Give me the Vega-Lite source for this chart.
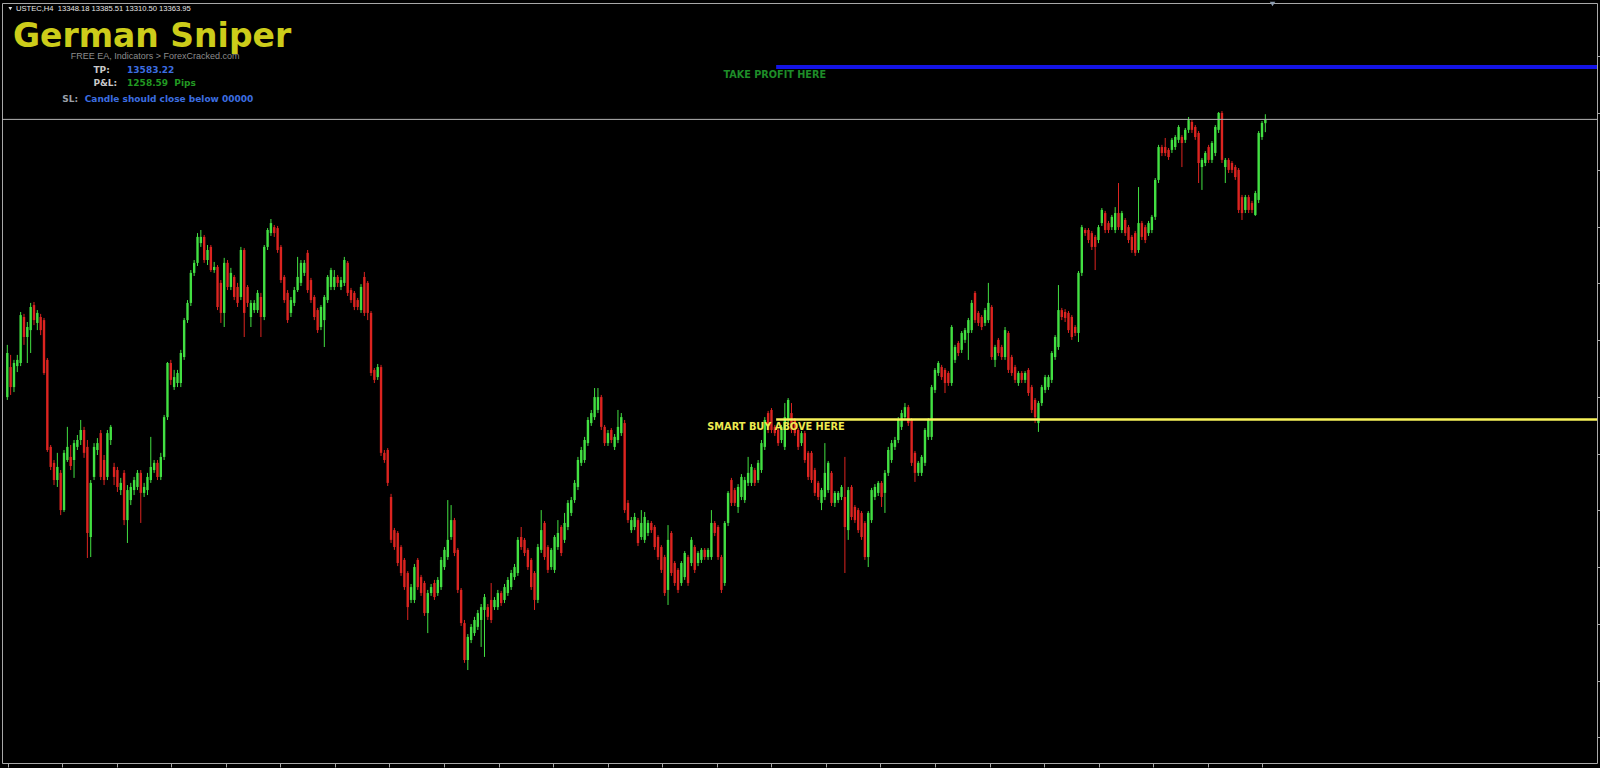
{
"$schema":"https://vega.github.io/schema/vega-lite/v6.json",
"width":1595,"height":760,
"autosize":{"type":"none"},
"padding":{"left":2,"top":3,"right":3,"bottom":5},
"background":"#000000",
"config":{"view":{"stroke":"#a8a8a8","strokeWidth":1,"fill":"#000000"},"axis":{"grid":false,"labels":false,"domain":false,"tickColor":"#a8a8a8","tickWidth":1}},
"datasets":{"candles":[
{"t":0,"o":12199,"h":12418,"l":12187,"c":12384},{"t":1,"o":12325,"h":12376,"l":12208,"c":12241},{"t":2,"o":12241,"h":12355,"l":12220,"c":12342},{"t":3,"o":12329,"h":12376,"l":12304,"c":12355},{"t":4,"o":12342,"h":12556,"l":12329,"c":12543},{"t":5,"o":12535,"h":12548,"l":12418,"c":12451},{"t":6,"o":12451,"h":12514,"l":12342,"c":12493},{"t":7,"o":12480,"h":12594,"l":12384,"c":12577},{"t":8,"o":12585,"h":12598,"l":12501,"c":12522},{"t":9,"o":12510,"h":12564,"l":12480,"c":12552},
{"t":10,"o":12535,"h":12548,"l":12459,"c":12480},{"t":11,"o":12522,"h":12531,"l":12292,"c":12300},{"t":12,"o":12355,"h":12363,"l":11969,"c":11977},{"t":13,"o":11990,"h":11998,"l":11893,"c":11906},{"t":14,"o":11923,"h":11935,"l":11830,"c":11851},{"t":15,"o":11851,"h":11965,"l":11822,"c":11906},{"t":16,"o":11881,"h":11893,"l":11704,"c":11725},{"t":17,"o":11725,"h":11977,"l":11717,"c":11965},{"t":18,"o":11935,"h":12074,"l":11927,"c":11990},{"t":19,"o":11948,"h":11998,"l":11893,"c":11910},
{"t":20,"o":11935,"h":12019,"l":11860,"c":12006},{"t":21,"o":11990,"h":12040,"l":11977,"c":12019},{"t":22,"o":12019,"h":12103,"l":11998,"c":12061},{"t":23,"o":12061,"h":12074,"l":11944,"c":11965},{"t":24,"o":11990,"h":12019,"l":11524,"c":11629},{"t":25,"o":11612,"h":11851,"l":11528,"c":11839},{"t":26,"o":11864,"h":12006,"l":11851,"c":11990},{"t":27,"o":11977,"h":12027,"l":11956,"c":12006},{"t":28,"o":12048,"h":12061,"l":11851,"c":11864},{"t":29,"o":11935,"h":11956,"l":11830,"c":11851},
{"t":30,"o":11864,"h":12061,"l":11851,"c":12048},{"t":31,"o":12019,"h":12082,"l":11998,"c":12074},{"t":32,"o":11906,"h":11923,"l":11830,"c":11864},{"t":33,"o":11893,"h":11906,"l":11801,"c":11822},{"t":34,"o":11809,"h":11860,"l":11788,"c":11839},{"t":35,"o":11881,"h":11893,"l":11662,"c":11683},{"t":36,"o":11683,"h":11830,"l":11587,"c":11809},{"t":37,"o":11767,"h":11839,"l":11746,"c":11822},{"t":38,"o":11809,"h":11864,"l":11788,"c":11851},{"t":39,"o":11822,"h":11893,"l":11809,"c":11881},
{"t":40,"o":11881,"h":11893,"l":11671,"c":11797},{"t":41,"o":11797,"h":11839,"l":11780,"c":11822},{"t":42,"o":11809,"h":11881,"l":11788,"c":11864},{"t":43,"o":11851,"h":12032,"l":11839,"c":11906},{"t":44,"o":11893,"h":11935,"l":11881,"c":11923},{"t":45,"o":11923,"h":11935,"l":11851,"c":11864},{"t":46,"o":11864,"h":11965,"l":11851,"c":11948},{"t":47,"o":11948,"h":12124,"l":11935,"c":12115},{"t":48,"o":12115,"h":12346,"l":12103,"c":12342},{"t":49,"o":12342,"h":12355,"l":12250,"c":12271},
{"t":50,"o":12241,"h":12313,"l":12229,"c":12283},{"t":51,"o":12258,"h":12313,"l":12241,"c":12300},{"t":52,"o":12258,"h":12397,"l":12241,"c":12384},{"t":53,"o":12367,"h":12531,"l":12355,"c":12522},{"t":54,"o":12522,"h":12606,"l":12510,"c":12594},{"t":55,"o":12594,"h":12732,"l":12581,"c":12720},{"t":56,"o":12720,"h":12774,"l":12707,"c":12762},{"t":57,"o":12762,"h":12887,"l":12749,"c":12871},{"t":58,"o":12845,"h":12900,"l":12829,"c":12871},{"t":59,"o":12871,"h":12879,"l":12762,"c":12774},
{"t":60,"o":12774,"h":12837,"l":12753,"c":12816},{"t":61,"o":12829,"h":12837,"l":12724,"c":12732},{"t":62,"o":12732,"h":12766,"l":12720,"c":12745},{"t":63,"o":12745,"h":12753,"l":12564,"c":12577},{"t":64,"o":12678,"h":12690,"l":12510,"c":12552},{"t":65,"o":12552,"h":12783,"l":12493,"c":12762},{"t":66,"o":12762,"h":12774,"l":12648,"c":12661},{"t":67,"o":12661,"h":12741,"l":12648,"c":12720},{"t":68,"o":12703,"h":12711,"l":12606,"c":12619},{"t":69,"o":12661,"h":12678,"l":12577,"c":12594},
{"t":70,"o":12619,"h":12829,"l":12606,"c":12816},{"t":71,"o":12816,"h":12824,"l":12451,"c":12552},{"t":72,"o":12661,"h":12669,"l":12577,"c":12594},{"t":73,"o":12535,"h":12606,"l":12493,"c":12594},{"t":74,"o":12564,"h":12606,"l":12552,"c":12594},{"t":75,"o":12564,"h":12648,"l":12552,"c":12636},{"t":76,"o":12619,"h":12636,"l":12451,"c":12535},{"t":77,"o":12535,"h":12837,"l":12522,"c":12829},{"t":78,"o":12829,"h":12908,"l":12816,"c":12900},{"t":79,"o":12887,"h":12946,"l":12875,"c":12929},
{"t":80,"o":12912,"h":12921,"l":12871,"c":12887},{"t":81,"o":12908,"h":12917,"l":12804,"c":12816},{"t":82,"o":12829,"h":12837,"l":12678,"c":12690},{"t":83,"o":12703,"h":12711,"l":12594,"c":12606},{"t":84,"o":12636,"h":12648,"l":12510,"c":12522},{"t":85,"o":12552,"h":12619,"l":12535,"c":12606},{"t":86,"o":12594,"h":12661,"l":12581,"c":12648},{"t":87,"o":12648,"h":12787,"l":12640,"c":12703},{"t":88,"o":12678,"h":12774,"l":12665,"c":12762},{"t":89,"o":12720,"h":12774,"l":12707,"c":12762},
{"t":90,"o":12804,"h":12816,"l":12636,"c":12648},{"t":91,"o":12690,"h":12699,"l":12594,"c":12606},{"t":92,"o":12619,"h":12627,"l":12522,"c":12535},{"t":93,"o":12564,"h":12573,"l":12468,"c":12480},{"t":94,"o":12493,"h":12585,"l":12480,"c":12577},{"t":95,"o":12522,"h":12627,"l":12409,"c":12619},{"t":96,"o":12606,"h":12711,"l":12594,"c":12703},{"t":97,"o":12661,"h":12741,"l":12648,"c":12732},{"t":98,"o":12661,"h":12732,"l":12648,"c":12703},{"t":99,"o":12703,"h":12711,"l":12661,"c":12678},
{"t":100,"o":12661,"h":12703,"l":12648,"c":12690},{"t":101,"o":12678,"h":12787,"l":12665,"c":12774},{"t":102,"o":12762,"h":12770,"l":12623,"c":12636},{"t":103,"o":12648,"h":12657,"l":12594,"c":12606},{"t":104,"o":12636,"h":12644,"l":12564,"c":12577},{"t":105,"o":12606,"h":12615,"l":12564,"c":12577},{"t":106,"o":12564,"h":12673,"l":12552,"c":12661},{"t":107,"o":12703,"h":12724,"l":12539,"c":12552},{"t":108,"o":12678,"h":12686,"l":12522,"c":12552},{"t":109,"o":12552,"h":12560,"l":12288,"c":12300},
{"t":110,"o":12313,"h":12321,"l":12258,"c":12271},{"t":111,"o":12283,"h":12338,"l":12271,"c":12325},{"t":112,"o":12325,"h":12334,"l":11952,"c":11965},{"t":113,"o":11965,"h":11977,"l":11923,"c":11935},{"t":114,"o":11977,"h":11985,"l":11826,"c":11839},{"t":115,"o":11780,"h":11793,"l":11587,"c":11600},{"t":116,"o":11641,"h":11650,"l":11558,"c":11570},{"t":117,"o":11629,"h":11637,"l":11490,"c":11503},{"t":118,"o":11570,"h":11578,"l":11449,"c":11461},{"t":119,"o":11516,"h":11524,"l":11390,"c":11402},
{"t":120,"o":11461,"h":11469,"l":11264,"c":11318},{"t":121,"o":11348,"h":11415,"l":11335,"c":11402},{"t":122,"o":11348,"h":11499,"l":11335,"c":11486},{"t":123,"o":11516,"h":11524,"l":11390,"c":11402},{"t":124,"o":11444,"h":11453,"l":11365,"c":11377},{"t":125,"o":11419,"h":11428,"l":11281,"c":11293},{"t":126,"o":11293,"h":11390,"l":11209,"c":11377},{"t":127,"o":11377,"h":11415,"l":11365,"c":11402},{"t":128,"o":11419,"h":11432,"l":11348,"c":11360},{"t":129,"o":11377,"h":11444,"l":11365,"c":11432},
{"t":130,"o":11402,"h":11528,"l":11390,"c":11516},{"t":131,"o":11486,"h":11570,"l":11474,"c":11558},{"t":132,"o":11528,"h":11767,"l":11516,"c":11600},{"t":133,"o":11612,"h":11746,"l":11600,"c":11683},{"t":134,"o":11683,"h":11692,"l":11532,"c":11545},{"t":135,"o":11558,"h":11566,"l":11377,"c":11390},{"t":136,"o":11390,"h":11398,"l":11239,"c":11251},{"t":137,"o":11251,"h":11264,"l":11084,"c":11096},{"t":138,"o":11096,"h":11205,"l":11054,"c":11193},{"t":139,"o":11180,"h":11247,"l":11167,"c":11235},
{"t":140,"o":11209,"h":11277,"l":11197,"c":11264},{"t":141,"o":11235,"h":11306,"l":11222,"c":11293},{"t":142,"o":11264,"h":11331,"l":11151,"c":11318},{"t":143,"o":11306,"h":11373,"l":11109,"c":11360},{"t":144,"o":11318,"h":11331,"l":11264,"c":11277},{"t":145,"o":11348,"h":11419,"l":11251,"c":11264},{"t":146,"o":11318,"h":11360,"l":11306,"c":11348},{"t":147,"o":11318,"h":11390,"l":11306,"c":11377},{"t":148,"o":11377,"h":11386,"l":11323,"c":11335},{"t":149,"o":11348,"h":11415,"l":11335,"c":11402},
{"t":150,"o":11377,"h":11444,"l":11365,"c":11432},{"t":151,"o":11402,"h":11474,"l":11390,"c":11461},{"t":152,"o":11444,"h":11499,"l":11432,"c":11486},{"t":153,"o":11461,"h":11612,"l":11449,"c":11600},{"t":154,"o":11612,"h":11654,"l":11558,"c":11570},{"t":155,"o":11600,"h":11608,"l":11532,"c":11545},{"t":156,"o":11558,"h":11566,"l":11474,"c":11486},{"t":157,"o":11516,"h":11524,"l":11390,"c":11402},{"t":158,"o":11461,"h":11469,"l":11306,"c":11348},{"t":159,"o":11348,"h":11583,"l":11335,"c":11570},
{"t":160,"o":11558,"h":11725,"l":11545,"c":11641},{"t":161,"o":11671,"h":11679,"l":11516,"c":11528},{"t":162,"o":11570,"h":11578,"l":11461,"c":11474},{"t":163,"o":11486,"h":11566,"l":11474,"c":11558},{"t":164,"o":11474,"h":11620,"l":11461,"c":11612},{"t":165,"o":11570,"h":11683,"l":11558,"c":11629},{"t":166,"o":11654,"h":11662,"l":11532,"c":11545},{"t":167,"o":11600,"h":11713,"l":11587,"c":11671},{"t":168,"o":11654,"h":11767,"l":11641,"c":11755},{"t":169,"o":11713,"h":11780,"l":11700,"c":11767},
{"t":170,"o":11767,"h":11851,"l":11755,"c":11839},{"t":171,"o":11822,"h":11948,"l":11809,"c":11935},{"t":172,"o":11923,"h":11990,"l":11910,"c":11977},{"t":173,"o":11935,"h":12032,"l":11923,"c":12019},{"t":174,"o":12006,"h":12115,"l":11994,"c":12103},{"t":175,"o":12090,"h":12145,"l":12078,"c":12132},{"t":176,"o":12115,"h":12237,"l":12103,"c":12199},{"t":177,"o":12145,"h":12237,"l":12132,"c":12199},{"t":178,"o":12199,"h":12208,"l":12061,"c":12074},{"t":179,"o":12074,"h":12082,"l":11994,"c":12006},
{"t":180,"o":12006,"h":12061,"l":11994,"c":12048},{"t":181,"o":12061,"h":12069,"l":12006,"c":12019},{"t":182,"o":11990,"h":12044,"l":11977,"c":12032},{"t":183,"o":12019,"h":12145,"l":12006,"c":12074},{"t":184,"o":12048,"h":12132,"l":12036,"c":12115},{"t":185,"o":12090,"h":12103,"l":11713,"c":11725},{"t":186,"o":11755,"h":11767,"l":11671,"c":11683},{"t":187,"o":11641,"h":11696,"l":11629,"c":11683},{"t":188,"o":11654,"h":11713,"l":11641,"c":11696},{"t":189,"o":11683,"h":11692,"l":11574,"c":11587},
{"t":190,"o":11612,"h":11725,"l":11600,"c":11671},{"t":191,"o":11600,"h":11717,"l":11587,"c":11696},{"t":192,"o":11629,"h":11683,"l":11616,"c":11671},{"t":193,"o":11671,"h":11679,"l":11629,"c":11641},{"t":194,"o":11654,"h":11662,"l":11558,"c":11570},{"t":195,"o":11612,"h":11620,"l":11516,"c":11528},{"t":196,"o":11570,"h":11578,"l":11461,"c":11474},{"t":197,"o":11528,"h":11537,"l":11365,"c":11377},{"t":198,"o":11390,"h":11662,"l":11327,"c":11600},{"t":199,"o":11629,"h":11637,"l":11449,"c":11461},
{"t":200,"o":11503,"h":11511,"l":11407,"c":11419},{"t":201,"o":11474,"h":11482,"l":11377,"c":11390},{"t":202,"o":11419,"h":11511,"l":11407,"c":11503},{"t":203,"o":11444,"h":11553,"l":11432,"c":11545},{"t":204,"o":11528,"h":11537,"l":11407,"c":11419},{"t":205,"o":11503,"h":11612,"l":11490,"c":11600},{"t":206,"o":11570,"h":11578,"l":11461,"c":11474},{"t":207,"o":11503,"h":11553,"l":11490,"c":11545},{"t":208,"o":11516,"h":11566,"l":11503,"c":11558},{"t":209,"o":11558,"h":11566,"l":11516,"c":11528},
{"t":210,"o":11528,"h":11566,"l":11516,"c":11558},{"t":211,"o":11528,"h":11725,"l":11516,"c":11671},{"t":212,"o":11671,"h":11679,"l":11616,"c":11629},{"t":213,"o":11654,"h":11662,"l":11516,"c":11528},{"t":214,"o":11528,"h":11537,"l":11377,"c":11390},{"t":215,"o":11419,"h":11679,"l":11407,"c":11671},{"t":216,"o":11671,"h":11805,"l":11658,"c":11797},{"t":217,"o":11851,"h":11860,"l":11742,"c":11755},{"t":218,"o":11809,"h":11818,"l":11742,"c":11755},{"t":219,"o":11738,"h":11834,"l":11713,"c":11822},
{"t":220,"o":11780,"h":11876,"l":11767,"c":11864},{"t":221,"o":11767,"h":11864,"l":11755,"c":11851},{"t":222,"o":11839,"h":11948,"l":11826,"c":11881},{"t":223,"o":11839,"h":11918,"l":11826,"c":11906},{"t":224,"o":11893,"h":11902,"l":11826,"c":11839},{"t":225,"o":11851,"h":11935,"l":11839,"c":11923},{"t":226,"o":11893,"h":12019,"l":11881,"c":12006},{"t":227,"o":11990,"h":12115,"l":11977,"c":12103},{"t":228,"o":12132,"h":12141,"l":12048,"c":12061},{"t":229,"o":12145,"h":12153,"l":12048,"c":12061},
{"t":230,"o":12074,"h":12082,"l":12036,"c":12048},{"t":231,"o":12061,"h":12069,"l":11994,"c":12006},{"t":232,"o":12019,"h":12082,"l":12006,"c":12074},{"t":233,"o":11990,"h":12174,"l":11977,"c":12115},{"t":234,"o":12103,"h":12195,"l":12090,"c":12187},{"t":235,"o":12132,"h":12174,"l":12048,"c":12061},{"t":236,"o":12103,"h":12111,"l":12036,"c":12048},{"t":237,"o":12061,"h":12069,"l":11977,"c":11990},{"t":238,"o":12006,"h":12057,"l":11994,"c":12048},{"t":239,"o":12048,"h":12057,"l":11923,"c":11935},
{"t":240,"o":11965,"h":11973,"l":11851,"c":11864},{"t":241,"o":11965,"h":11973,"l":11839,"c":11851},{"t":242,"o":11893,"h":11902,"l":11784,"c":11797},{"t":243,"o":11839,"h":11847,"l":11767,"c":11780},{"t":244,"o":11755,"h":11818,"l":11725,"c":11809},{"t":245,"o":11780,"h":12006,"l":11767,"c":11881},{"t":246,"o":11809,"h":11931,"l":11797,"c":11923},{"t":247,"o":11881,"h":11889,"l":11742,"c":11755},{"t":248,"o":11755,"h":11805,"l":11738,"c":11797},{"t":249,"o":11767,"h":11805,"l":11755,"c":11797},
{"t":250,"o":11780,"h":11830,"l":11767,"c":11822},{"t":251,"o":11780,"h":11948,"l":11461,"c":11654},{"t":252,"o":11641,"h":11822,"l":11600,"c":11809},{"t":253,"o":11822,"h":11830,"l":11683,"c":11696},{"t":254,"o":11738,"h":11746,"l":11671,"c":11683},{"t":255,"o":11725,"h":11734,"l":11629,"c":11641},{"t":256,"o":11713,"h":11721,"l":11600,"c":11612},{"t":257,"o":11671,"h":11679,"l":11516,"c":11528},{"t":258,"o":11528,"h":11721,"l":11486,"c":11713},{"t":259,"o":11683,"h":11818,"l":11671,"c":11809},
{"t":260,"o":11780,"h":11834,"l":11767,"c":11822},{"t":261,"o":11797,"h":11847,"l":11784,"c":11839},{"t":262,"o":11839,"h":11847,"l":11738,"c":11780},{"t":263,"o":11797,"h":11893,"l":11713,"c":11881},{"t":264,"o":11881,"h":11990,"l":11868,"c":11977},{"t":265,"o":11935,"h":12019,"l":11923,"c":12006},{"t":266,"o":11990,"h":12032,"l":11977,"c":12019},{"t":267,"o":12019,"h":12115,"l":12006,"c":12103},{"t":268,"o":12074,"h":12145,"l":12061,"c":12132},{"t":269,"o":12115,"h":12174,"l":12103,"c":12157},
{"t":270,"o":12157,"h":12166,"l":12078,"c":12090},{"t":271,"o":12103,"h":12111,"l":11910,"c":11923},{"t":272,"o":11965,"h":11973,"l":11843,"c":11881},{"t":273,"o":11881,"h":11931,"l":11868,"c":11923},{"t":274,"o":11881,"h":11956,"l":11868,"c":11948},{"t":275,"o":11923,"h":12069,"l":11910,"c":12061},{"t":276,"o":12032,"h":12111,"l":12019,"c":12103},{"t":277,"o":12032,"h":12250,"l":12019,"c":12241},{"t":278,"o":12229,"h":12321,"l":12216,"c":12313},{"t":279,"o":12300,"h":12350,"l":12288,"c":12342},
{"t":280,"o":12325,"h":12334,"l":12271,"c":12283},{"t":281,"o":12313,"h":12321,"l":12216,"c":12258},{"t":282,"o":12300,"h":12308,"l":12246,"c":12258},{"t":283,"o":12258,"h":12501,"l":12246,"c":12493},{"t":284,"o":12355,"h":12418,"l":12342,"c":12409},{"t":285,"o":12426,"h":12434,"l":12371,"c":12384},{"t":286,"o":12397,"h":12476,"l":12384,"c":12468},{"t":287,"o":12439,"h":12489,"l":12426,"c":12480},{"t":288,"o":12468,"h":12531,"l":12355,"c":12522},{"t":289,"o":12480,"h":12606,"l":12468,"c":12594},
{"t":290,"o":12636,"h":12644,"l":12510,"c":12522},{"t":291,"o":12552,"h":12560,"l":12497,"c":12510},{"t":292,"o":12535,"h":12543,"l":12480,"c":12493},{"t":293,"o":12510,"h":12573,"l":12497,"c":12564},{"t":294,"o":12522,"h":12678,"l":12510,"c":12594},{"t":295,"o":12577,"h":12585,"l":12355,"c":12367},{"t":296,"o":12355,"h":12418,"l":12325,"c":12409},{"t":297,"o":12439,"h":12447,"l":12371,"c":12384},{"t":298,"o":12409,"h":12418,"l":12355,"c":12367},{"t":299,"o":12367,"h":12493,"l":12355,"c":12480},
{"t":300,"o":12468,"h":12476,"l":12300,"c":12313},{"t":301,"o":12367,"h":12376,"l":12288,"c":12300},{"t":302,"o":12325,"h":12334,"l":12258,"c":12271},{"t":303,"o":12258,"h":12308,"l":12246,"c":12300},{"t":304,"o":12300,"h":12308,"l":12258,"c":12271},{"t":305,"o":12271,"h":12308,"l":12258,"c":12300},{"t":306,"o":12313,"h":12321,"l":12204,"c":12216},{"t":307,"o":12241,"h":12250,"l":12132,"c":12145},{"t":308,"o":12187,"h":12195,"l":12090,"c":12115},{"t":309,"o":12090,"h":12183,"l":12053,"c":12174},
{"t":310,"o":12174,"h":12250,"l":12162,"c":12241},{"t":311,"o":12229,"h":12292,"l":12216,"c":12283},{"t":312,"o":12241,"h":12292,"l":12229,"c":12283},{"t":313,"o":12271,"h":12392,"l":12258,"c":12384},{"t":314,"o":12367,"h":12459,"l":12355,"c":12451},{"t":315,"o":12409,"h":12669,"l":12397,"c":12564},{"t":316,"o":12564,"h":12573,"l":12522,"c":12535},{"t":317,"o":12556,"h":12568,"l":12514,"c":12531},{"t":318,"o":12552,"h":12560,"l":12468,"c":12480},{"t":319,"o":12535,"h":12543,"l":12439,"c":12451},
{"t":320,"o":12493,"h":12501,"l":12455,"c":12468},{"t":321,"o":12468,"h":12728,"l":12430,"c":12720},{"t":322,"o":12720,"h":12921,"l":12707,"c":12912},{"t":323,"o":12900,"h":12908,"l":12875,"c":12887},{"t":324,"o":12900,"h":12908,"l":12845,"c":12858},{"t":325,"o":12887,"h":12896,"l":12816,"c":12829},{"t":326,"o":12871,"h":12879,"l":12732,"c":12829},{"t":327,"o":12858,"h":12921,"l":12845,"c":12912},{"t":328,"o":12929,"h":12992,"l":12917,"c":12984},{"t":329,"o":12971,"h":12980,"l":12887,"c":12900},
{"t":330,"o":12929,"h":12938,"l":12887,"c":12900},{"t":331,"o":12912,"h":12963,"l":12900,"c":12955},{"t":332,"o":12900,"h":12996,"l":12887,"c":12971},{"t":333,"o":12971,"h":13097,"l":12900,"c":12912},{"t":334,"o":12900,"h":12980,"l":12887,"c":12971},{"t":335,"o":12942,"h":12950,"l":12875,"c":12887},{"t":336,"o":12912,"h":12921,"l":12845,"c":12858},{"t":337,"o":12871,"h":12879,"l":12804,"c":12816},{"t":338,"o":12887,"h":12896,"l":12791,"c":12804},{"t":339,"o":12816,"h":13080,"l":12804,"c":12929},
{"t":340,"o":12929,"h":12938,"l":12858,"c":12871},{"t":341,"o":12912,"h":12921,"l":12845,"c":12858},{"t":342,"o":12887,"h":12938,"l":12875,"c":12929},{"t":343,"o":12900,"h":12963,"l":12887,"c":12955},{"t":344,"o":12955,"h":13118,"l":12942,"c":13110},{"t":345,"o":13110,"h":13257,"l":13097,"c":13248},{"t":346,"o":13248,"h":13257,"l":13210,"c":13223},{"t":347,"o":13248,"h":13286,"l":13210,"c":13223},{"t":348,"o":13236,"h":13244,"l":13194,"c":13206},{"t":349,"o":13236,"h":13286,"l":13223,"c":13278},
{"t":350,"o":13248,"h":13298,"l":13236,"c":13290},{"t":351,"o":13278,"h":13340,"l":13265,"c":13332},{"t":352,"o":13290,"h":13298,"l":13164,"c":13265},{"t":353,"o":13278,"h":13328,"l":13265,"c":13320},{"t":354,"o":13320,"h":13374,"l":13307,"c":13361},{"t":355,"o":13353,"h":13361,"l":13307,"c":13320},{"t":356,"o":13332,"h":13340,"l":13278,"c":13290},{"t":357,"o":13307,"h":13315,"l":13097,"c":13181},{"t":358,"o":13164,"h":13202,"l":13068,"c":13194},{"t":359,"o":13181,"h":13231,"l":13168,"c":13223},
{"t":360,"o":13248,"h":13257,"l":13181,"c":13194},{"t":361,"o":13194,"h":13273,"l":13181,"c":13265},{"t":362,"o":13223,"h":13340,"l":13210,"c":13332},{"t":363,"o":13320,"h":13395,"l":13307,"c":13391},{"t":364,"o":13391,"h":13399,"l":13181,"c":13194},{"t":365,"o":13164,"h":13202,"l":13097,"c":13194},{"t":366,"o":13194,"h":13202,"l":13139,"c":13152},{"t":367,"o":13181,"h":13189,"l":13139,"c":13152},{"t":368,"o":13164,"h":13173,"l":13110,"c":13122},{"t":369,"o":13152,"h":13160,"l":12971,"c":12984},
{"t":370,"o":13038,"h":13047,"l":12942,"c":12971},{"t":371,"o":12984,"h":13047,"l":12971,"c":13038},{"t":372,"o":13038,"h":13047,"l":12971,"c":12984},{"t":373,"o":13013,"h":13022,"l":12971,"c":12984},{"t":374,"o":12963,"h":13064,"l":12959,"c":13055},{"t":375,"o":13026,"h":13315,"l":13013,"c":13307},{"t":376,"o":13290,"h":13357,"l":13278,"c":13349},{"t":377,"o":13348.18,"h":13385.51,"l":13310.5,"c":13363.95}
]},
"layer":[
{"data":{"name":"candles"},"mark":{"type":"rule","strokeWidth":1,"clip":true},
 "encoding":{
  "x":{"field":"t","type":"quantitative","scale":{"domain":[-0.09,474.89],"nice":false,"zero":false},"axis":{"title":null,"values":[0.06,16.41,32.76,49.11,65.46,81.8,98.15,114.5,130.85,147.2,163.55,179.9,196.25,212.6,228.95,245.3,261.65,278.0,294.34,310.7,327.04,343.39,359.74,376.09],"tickSize":4}},
  "y":{"field":"l","type":"quantitative","scale":{"domain":[10664,13852.2],"nice":false,"zero":false},"axis":{"title":null,"orient":"right","values":[13747,13628,13509,13390,13271,13152,13033,12914,12795,12676,12557,12438,12319,12200,12081,11962,11843,11724,11605,11486,11367,11248,11129,11010,10891,10772],"tickSize":3}},
  "y2":{"field":"h"},
  "color":{"condition":{"test":"datum.c >= datum.o","value":"#42e042"},"value":"#dc2420"}}},
{"data":{"name":"candles"},"mark":{"type":"bar","size":2.4,"clip":true},
 "encoding":{
  "x":{"field":"t","type":"quantitative"},
  "y":{"field":"o","type":"quantitative"},
  "y2":{"field":"c"},
  "color":{"condition":{"test":"datum.c >= datum.o","value":"#42e042"},"value":"#dc2420"}}},
{"data":{"values":[{}]},"mark":{"type":"rule","color":"#b4b4b4","strokeWidth":1},"encoding":{"y":{"datum":13363.95}}},
{"data":{"values":[{}]},"mark":{"type":"rule","color":"#1414e6","strokeWidth":4,"clip":true},"encoding":{"x":{"datum":230.4},"x2":{"datum":480},"y":{"datum":13583.22}}},
{"data":{"values":[{}]},"mark":{"type":"rule","color":"#f8f35a","strokeWidth":2.5,"clip":true},"encoding":{"x":{"datum":230.4},"x2":{"datum":480},"y":{"datum":12105.36}}},
{"data":{"values":[{}]},"mark":{"type":"text","text":"TAKE PROFIT HERE","font":"DejaVu Sans","fontSize":9.7,"fontWeight":"bold","color":"#1e8c28","align":"left","baseline":"alphabetic"},"encoding":{"x":{"datum":214.6},"y":{"datum":13537.6}}},
{"data":{"values":[{}]},"mark":{"type":"text","text":"SMART BUY ABOVE HERE","font":"DejaVu Sans","fontSize":9.8,"fontWeight":"bold","color":"#eeea50","align":"left","baseline":"alphabetic"},"encoding":{"x":{"datum":209.77},"y":{"datum":12060.9}}},
{"data":{"values":[{}]},"mark":{"type":"point","shape":"triangle-down","filled":true,"size":14,"color":"#e0e0e0","opacity":1},"encoding":{"x":{"datum":0.9},"y":{"datum":13829.1}}},
{"data":{"values":[{}]},"mark":{"type":"text","text":"USTEC,H4\u00a0\u00a013348.18 13385.51 13310.50 13363.95","font":"Liberation Sans","fontSize":7.6,"color":"#e6e6e6","align":"left","baseline":"alphabetic"},"encoding":{"x":{"datum":2.6},"y":{"datum":13816.6}}},
{"data":{"values":[{}]},"mark":{"type":"point","shape":"triangle-down","filled":true,"size":30,"color":"#8c9cb0","opacity":1,"clip":false},"encoding":{"x":{"datum":379.15},"y":{"datum":13848}}},
{"data":{"values":[{}]},"mark":{"type":"text","text":"German Sniper","font":"DejaVu Sans","fontSize":33,"fontWeight":"bold","color":"#cccc1a","align":"left","baseline":"alphabetic"},"encoding":{"x":{"datum":1.7},"y":{"datum":13669.7}}},
{"data":{"values":[{}]},"mark":{"type":"text","text":"FREE EA, Indicators > ForexCracked.com","font":"Liberation Sans","fontSize":9,"color":"#8c8c8c","align":"left","baseline":"alphabetic"},"encoding":{"x":{"datum":19.0},"y":{"datum":13615.2}}},
{"data":{"values":[{}]},"mark":{"type":"text","text":"TP:","font":"DejaVu Sans","fontSize":9,"fontWeight":"bold","color":"#c8c8c8","align":"left","baseline":"alphabetic"},"encoding":{"x":{"datum":25.8},"y":{"datum":13559.8}}},
{"data":{"values":[{}]},"mark":{"type":"text","text":"13583.22","font":"DejaVu Sans","fontSize":9,"fontWeight":"bold","color":"#3c6ee0","align":"left","baseline":"alphabetic"},"encoding":{"x":{"datum":35.9},"y":{"datum":13559.8}}},
{"data":{"values":[{}]},"mark":{"type":"text","text":"P&L:","font":"DejaVu Sans","fontSize":9,"fontWeight":"bold","color":"#c8c8c8","align":"left","baseline":"alphabetic"},"encoding":{"x":{"datum":25.8},"y":{"datum":13504.0}}},
{"data":{"values":[{}]},"mark":{"type":"text","text":"1258.59\u00a0\u00a0Pips","font":"DejaVu Sans","fontSize":9,"fontWeight":"bold","color":"#229922","align":"left","baseline":"alphabetic"},"encoding":{"x":{"datum":35.9},"y":{"datum":13504.0}}},
{"data":{"values":[{}]},"mark":{"type":"text","text":"SL:","font":"DejaVu Sans","fontSize":9,"fontWeight":"bold","color":"#9aa0a8","align":"left","baseline":"alphabetic"},"encoding":{"x":{"datum":16.5},"y":{"datum":13438.2}}},
{"data":{"values":[{}]},"mark":{"type":"text","text":"Candle should close below 00000","font":"DejaVu Sans","fontSize":9,"fontWeight":"bold","color":"#3c6ee0","align":"left","baseline":"alphabetic"},"encoding":{"x":{"datum":23.2},"y":{"datum":13438.2}}}
]
}
